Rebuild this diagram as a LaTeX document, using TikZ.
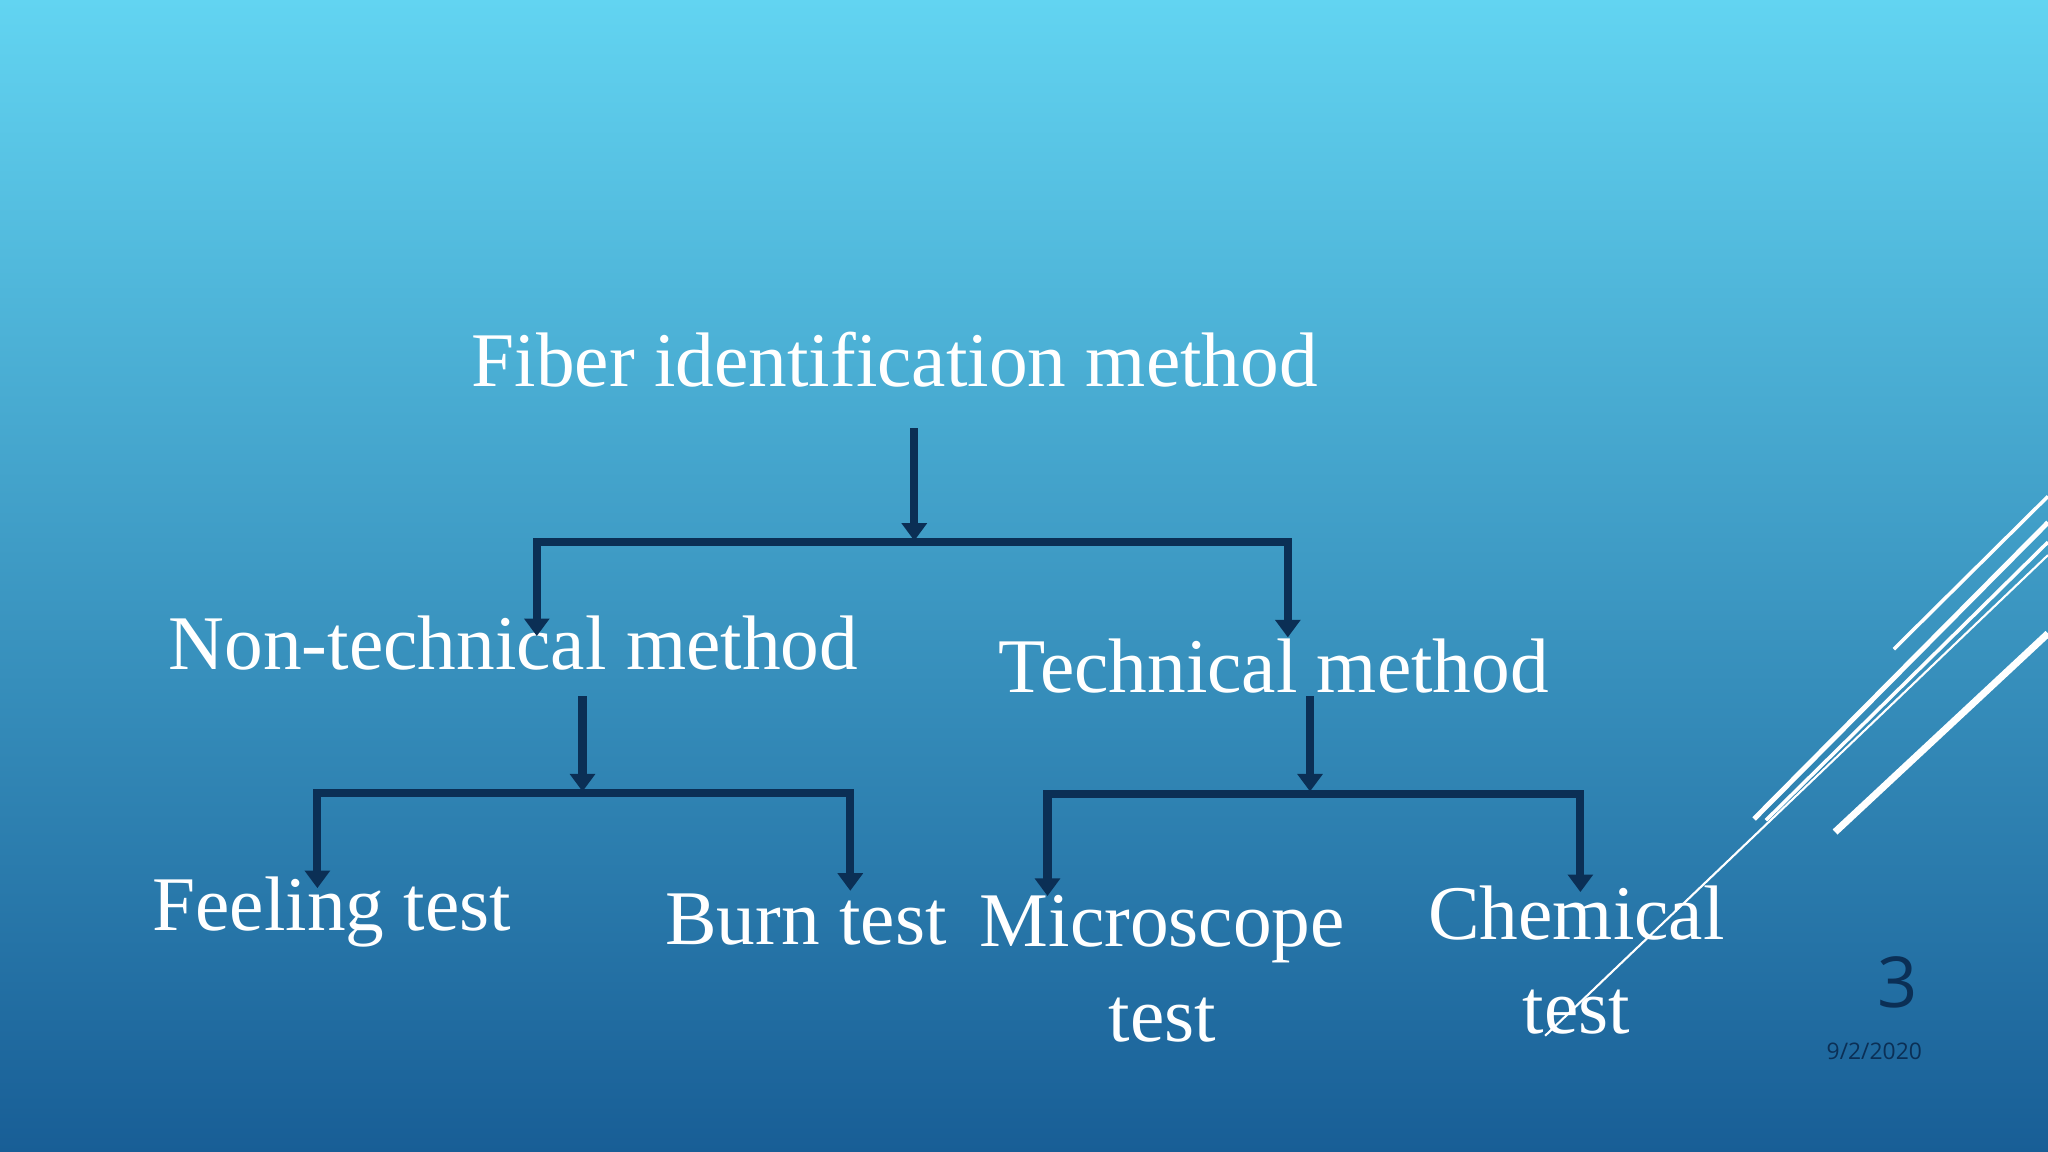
\documentclass[tikz,border=0pt]{standalone}
\usepackage{fontspec}
\setmainfont{Liberation Serif}
\setsansfont{Open Sans}
\usetikzlibrary{arrows.meta}
\definecolor{navy}{HTML}{0B2F55}
\tikzset{
  label/.style={text=white,font=\fontsize{22}{24}\selectfont,align=center,inner sep=0pt},
  link/.style={navy,line width=2.3pt},
  arr/.style={link,-{Triangle[width=7pt,length=5pt]}},
  arrs/.style={link,{Triangle[width=7pt,length=5pt]}-{Triangle[width=7pt,length=5pt]}},
  deco/.style={white,line width=1.4pt}
}
\begin{document}
\begin{tikzpicture}[x=0.01306cm,y=-0.01306cm]
\shade[top color={rgb,255:red,98;green,212;blue,241},bottom color={rgb,255:red,24;green,94;blue,150}] (0,0) rectangle (1568,882);
\useasboundingbox (0,0) rectangle (1568,882);
% decorative lines
\draw[deco,line width=1pt] (1450,497) -- (1568,380);
\draw[deco] (1343,627) -- (1568,400);
\draw[deco,line width=1pt] (1352,628) -- (1568,415);
\draw[deco,line width=2pt] (1405,637) -- (1568,485);
\draw[deco,line width=0.6pt] (1183,793) -- (1568,425);
% texts
\node[label] (fim) at (685,275) {Fiber identification method};
\node[label] (ntm) at (393,492) {Non-technical method};
\node[label] (tm) at (975,510) {Technical method};
\node[label] (ft) at (254,698) {Feeling test};
\node[label] (bt) at (617,704) {Burn test};
\node[label,font=\fontsize{22}{27}\selectfont] (mt) at (890,742) {Microscope\\test};
\node[label,font=\fontsize{22}{27}\selectfont] (ct) at (1207,735) {Chemical\\test};
\node[navy,font=\sffamily\fontsize{20}{22}\selectfont] (pg) at (1453,752) {3};
\node[navy,font=\sffamily\fontsize{6.5}{8}\selectfont] (dt) at (1435,805) {9/2/2020};
% tree
\coordinate (a0) at (700,328); \coordinate (a1) at (700,414);
\draw[arr] (a0) -- (a1);
\draw[arrs] (411,487) |- (700,415) -| (986,488);
\draw[arr] (446,533) -- (446,606);
\draw[arrs] (243,680) |- (446,607) -| (651,682);
\draw[arr] (1003,533) -- (1003,606);
\draw[arrs] (802,686) |- (1003,608) -| (1210,683);
\end{tikzpicture}
\end{document}
